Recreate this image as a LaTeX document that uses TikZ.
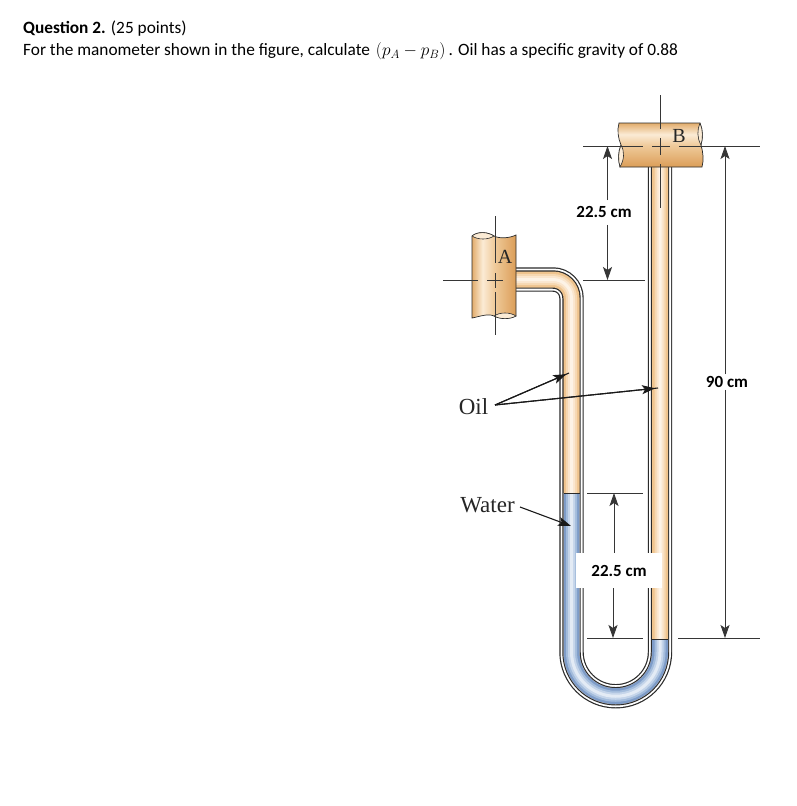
\documentclass[tikz,border=0pt]{standalone}
\usepackage{amsmath, amssymb}
\usepackage{xcolor}
\usepackage{fontspec}
\setmainfont{Carlito}
\newfontfamily\figfont{Liberation Serif}
\usetikzlibrary{arrows.meta}

\definecolor{wallcol}{HTML}{2A2A2A}
\definecolor{axiscol}{HTML}{363636}
\definecolor{oilA}{HTML}{EFC48E}
\definecolor{oilB}{HTML}{F6D8B2}
\definecolor{oilC}{HTML}{FAE6CE}
\definecolor{oilD}{HTML}{FDF3E6}
\definecolor{waterA}{HTML}{7E9CC8}
\definecolor{waterB}{HTML}{A3BCDC}
\definecolor{waterC}{HTML}{C5D5EA}
\definecolor{waterD}{HTML}{E3EBF5}
\definecolor{pipeE}{HTML}{E2AC6C}
\definecolor{pipeM}{HTML}{F0CB9C}
\definecolor{pipeL}{HTML}{FBEBD5}
\definecolor{pipeD}{HTML}{DB9E58}

\pgfdeclarehorizontalshading{pipeA}{100bp}{color(0bp)=(pipeE); color(25bp)=(pipeE); color(37bp)=(pipeL); color(50bp)=(pipeM); color(75bp)=(pipeD); color(100bp)=(pipeD)}
\pgfdeclareverticalshading{pipeB}{100bp}{color(0bp)=(pipeD); color(25bp)=(pipeD); color(50bp)=(pipeM); color(62bp)=(pipeL); color(75bp)=(pipeE); color(100bp)=(pipeE)}

% tube centre lines
\def\tubefull{(510,279.5) -- (553,279.5) arc[start angle=-90,end angle=0,radius=18.5] -- (571.5,652) arc[start angle=180,end angle=0,radius=44.25] -- (660,160)}
\def\wateronly{(571.5,493) -- (571.5,652) arc[start angle=180,end angle=0,radius=44.25] -- (660,639)}

\begin{document}
\begin{tikzpicture}[x=1pt, y=-1pt, >={Stealth[length=13pt,width=9pt,inset=3pt]},
		axis/.style={axiscol, line width=0.8pt},
		leaderline/.style={black!90, line width=1.1pt},
		leader/.style={->, leaderline, shorten >=3pt},
		dimline/.style={->, axiscol, line width=0.9pt},
		extline/.style={axiscol, line width=0.9pt},
		dimtext/.style={fill=white, font=\fontsize{17}{20}\selectfont\bfseries, inner sep=0pt},
		figlabel/.style={inner sep=0pt, text=black!85, font=\figfont\fontsize{23}{26}\selectfont},
		pipelabel/.style={inner sep=0pt, text=black!85, font=\figfont\fontsize{20}{23}\selectfont}]
	\useasboundingbox (0,0) rectangle (796,806);
	\fill[white] (0,0) rectangle (796,806);

	\node[anchor=west, inner sep=0pt, font=\fontsize{17.3}{20}\selectfont] (title) at (23,28.5) {\textbf{Question 2.} (25 points)};
	\node[anchor=west, inner sep=0pt, font=\fontsize{17.3}{20}\selectfont] (task) at (23,51.5) {For the manometer shown in the figure, calculate \hspace{2pt}$(p_A - p_B)$\hspace{3pt}. Oil has a specific gravity of 0.88};

	% glass walls, then the fluids
	\draw[wallcol, line width=24.4pt] \tubefull;
	\draw[white, line width=22pt] \tubefull;
	\draw[wallcol, line width=18.4pt] \tubefull;
	\foreach \w/\c in {16/oilA, 11/oilB, 7/oilC, 3/oilD}
		\draw[\c, line width=\w pt] \tubefull;
	\foreach \w/\c in {16/waterA, 11/waterB, 7/waterC, 3/waterD}
		\draw[\c, line width=\w pt] \wateronly;
	\draw[wallcol, line width=0.7pt] (563.5,493) -- (579.5,493);
	\draw[wallcol, line width=0.7pt] (652,639) -- (668,639);

	% pipes
	\draw[wallcol, line width=0.7pt, shading=pipeA]
		(472,236) .. controls (478,231) and (488,232) .. (494,236)
		.. controls (500,239) and (510,238) .. (516,235) -- (516,316)
		.. controls (510,319) and (500,319) .. (494,316)
		.. controls (488,313) and (478,317) .. (472,318) -- cycle;
	\draw[wallcol, line width=0.6pt, fill=pipeL] (472,236) .. controls (478,231) and (488,232) .. (494,236) .. controls (488,240) and (478,240) .. (472,236);
	\draw[wallcol, line width=0.6pt, fill=pipeL] (494,316) .. controls (500,312) and (510,312) .. (516,316) .. controls (510,319.5) and (500,319.5) .. (494,316);

	\draw[wallcol, line width=0.7pt, shading=pipeB]
		(619,123) -- (700,123) .. controls (703,130) and (703,138) .. (701,145)
		.. controls (703,152) and (704,160) .. (702,167) -- (620,167)
		.. controls (618,160) and (618,152) .. (621,145)
		.. controls (618,138) and (617,130) .. (619,123) -- cycle;
	\draw[wallcol, line width=0.6pt, fill=pipeL] (700,123) .. controls (703,130) and (703,138) .. (701,145) .. controls (697,138) and (697,130) .. (700,123);
	\draw[wallcol, line width=0.6pt, fill=pipeL] (621,145) .. controls (618,152) and (618,160) .. (620,167) .. controls (624,160) and (625,152) .. (621,145);

	% centre lines
	\draw[axis] (443,280) -- (478,280) (487,280) -- (503,280);
	\draw[axis] (495,216) -- (495,263) (495,273) -- (495,288) (495,292) -- (495,335);
	\draw[axis] (660,95) -- (660,129) (660,138) -- (660,155) (660,164) -- (660,208);
	\draw[axis] (652,146) -- (670,146);

	% extension lines
	\draw[extline] (583,280) -- (645,280);
	\draw[extline] (583,146) -- (643,146);
	\draw[extline] (679,146) -- (760,146);
	\draw[extline] (587,493) -- (643,493);
	\draw[extline] (587,638) -- (643,638);
	\draw[extline] (678,638) -- (760,638);

	% dimensions
	\node[dimtext] (topdim) at (604,212) {22.5 cm};
	\coordinate (topup) at (607.5,146);
	\coordinate (topdown) at (607.5,280);
	\draw[dimline] (topdim.north -| topup) ++(0,-6) -- (topup);
	\draw[dimline] (topdim.south -| topdown) ++(0,7) -- (topdown);

	\node[dimtext] (fulldim) at (727,382) {90 cm};
	\coordinate (fullup) at (725,146);
	\coordinate (fulldown) at (725,638);
	\draw[dimline] (fulldim.north -| fullup) ++(0,-2) -- (fullup);
	\draw[dimline] (fulldim.south -| fulldown) ++(0,2) -- (fulldown);

	\node[dimtext, minimum width=86pt, minimum height=35pt] (waterdim) at (619,570.5) {22.5 cm};
	\coordinate (waterup) at (614,493);
	\coordinate (waterdown) at (613,638);
	\draw[dimline] (waterdim.north -| waterup) -- (waterup);
	\draw[dimline] (waterdim.south -| waterdown) -- (waterdown);

	% labels
	\node[pipelabel] (labA) at (505,257) {A};
	\node[pipelabel] (labB) at (679,136) {B};
	\node[figlabel] (oil) at (473.5,407) {Oil};
	\node[figlabel] (water) at (487.5,505) {Water};

	\coordinate (oilleft) at (569,373);
	\coordinate (oilright) at (658,388);
	\coordinate (oilstart) at (495,405);
	\coordinate (waterend) at (571,526);
	\coordinate (waterstart) at (520,507);
	\draw[leaderline] (oilstart) -- (oilleft);
	\draw[leaderline] (oilstart) -- (oilright);
	\draw[leader] (oilstart) -- (oilleft);
	\draw[leader] (oilstart) -- (oilright);
	\draw[leader, shorten >=0pt] (waterstart) -- (waterend);
\end{tikzpicture}
\end{document}
